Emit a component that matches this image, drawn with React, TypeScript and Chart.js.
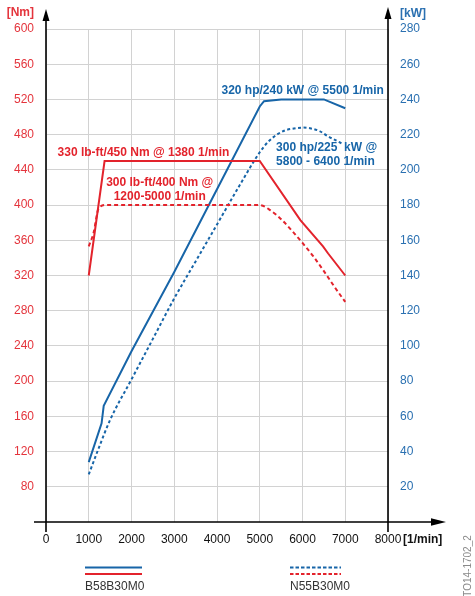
import { useEffect, useRef } from "react";
import { Chart, registerables } from "chart.js";
Chart.register(...registerables);

// B58B30M0 torque [Nm]
const rpmB58Torque = [1000, 1370, 5000, 5950, 6480, 6600, 7000];
const nmB58 = [320, 450, 450, 383, 353, 345, 320];
// N55B30M0 torque [Nm]
const rpmN55Torque = [1000, 1110, 1230, 1400, 5000, 5250, 5500, 5750, 6000, 6250, 6500, 6750, 7000];
const nmN55 = [353, 368, 396, 400, 400, 394, 384, 371, 357, 342, 325, 307, 290];
// B58B30M0 power [kW]
const rpmB58Power = [1000, 1300, 1350, 2000, 3000, 4000, 5000, 5100, 5500, 6500, 7000];
const kwB58 = [34, 56, 66, 97, 142, 189, 236, 239, 240, 240, 235];
// N55B30M0 power [kW]
const rpmN55Power = [1000, 1250, 1500, 2000, 2500, 3000, 3500, 4000, 4500, 5000, 5200, 5400, 5600, 5800, 6000, 6200, 6400, 6600, 6800, 6920];
const kwN55 = [27, 43, 58, 81, 104, 127, 148, 169, 190, 210, 216, 220, 222.5, 223.5, 224, 223.5, 222, 219, 216.5, 215];

const xTicks = [0, 1000, 2000, 3000, 4000, 5000, 6000, 7000, 8000];
const nmTicks = [80, 120, 160, 200, 240, 280, 320, 360, 400, 440, 480, 520, 560, 600];
const kwTicks = [20, 40, 60, 80, 100, 120, 140, 160, 180, 200, 220, 240, 260, 280];

const RED = "#e3232c";
const BLUE = "#1765a8";
const RED_T = "#e4343c";
const BLUE_T = "#2a70b1";
const FONT = "'Liberation Sans', Arial, Helvetica, sans-serif";

const pts = (xs: number[], ys: number[]) => xs.map((x, i) => ({ x, y: ys[i] }));

const overlay = {
  id: "overlay",
  afterDraw(chart: any) {
    const ctx = chart.ctx as CanvasRenderingContext2D;
    const xs = chart.scales.x;
    const yn = chart.scales.yNm;
    const yk = chart.scales.ykW;
    const x0 = xs.getPixelForValue(0);
    const x8 = xs.getPixelForValue(8000);
    const yb = yk.getPixelForValue(0);
    ctx.save();
    // axes
    ctx.strokeStyle = "#000";
    ctx.fillStyle = "#000";
    ctx.lineWidth = 1.6;
    ctx.beginPath();
    ctx.moveTo(x0, yb + 10);
    ctx.lineTo(x0, 16);
    ctx.moveTo(x8, yb + 10);
    ctx.lineTo(x8, 14);
    ctx.moveTo(x0 - 12, yb);
    ctx.lineTo(x8 + 45, yb);
    ctx.stroke();
    const arrowUp = (x: number, tip: number) => {
      ctx.beginPath();
      ctx.moveTo(x, tip);
      ctx.lineTo(x - 3.5, tip + 12);
      ctx.lineTo(x + 3.5, tip + 12);
      ctx.closePath();
      ctx.fill();
    };
    arrowUp(x0, 9);
    arrowUp(x8, 7);
    ctx.beginPath();
    ctx.moveTo(x8 + 58, yb);
    ctx.lineTo(x8 + 43, yb - 3.8);
    ctx.lineTo(x8 + 43, yb + 3.8);
    ctx.closePath();
    ctx.fill();

    // unit labels
    ctx.font = `bold 12px ${FONT}`;
    ctx.textBaseline = "middle";
    ctx.fillStyle = RED_T;
    ctx.textAlign = "right";
    ctx.fillText("[Nm]", x0 - 12, 12.5);
    ctx.fillStyle = BLUE_T;
    ctx.textAlign = "left";
    ctx.fillText("[kW]", x8 + 12, 13.5);
    ctx.fillStyle = "#111";
    ctx.fillText("[1/min]", x8 + 15, yb + 18);

    // annotations
    ctx.font = `bold 12px ${FONT}`;
    ctx.fillStyle = RED;
    ctx.textAlign = "center";
    ctx.fillText("330 lb-ft/450 Nm @ 1380 1/min", xs.getPixelForValue(2280), yn.getPixelForValue(460));
    ctx.fillText("300 lb-ft/400 Nm @", xs.getPixelForValue(2660), yn.getPixelForValue(425));
    ctx.fillText("1200-5000 1/min", xs.getPixelForValue(2660), yn.getPixelForValue(409.6));
    ctx.fillStyle = BLUE;
    ctx.fillText("320 hp/240 kW @ 5500 1/min", xs.getPixelForValue(6005), yk.getPixelForValue(245.1));
    ctx.textAlign = "left";
    ctx.fillText("300 hp/225  kW @", xs.getPixelForValue(5381), yk.getPixelForValue(212.7));
    ctx.fillText("5800 - 6400 1/min", xs.getPixelForValue(5381), yk.getPixelForValue(204.4));

    // legend
    const line = (xa: number, xb: number, y: number, color: string, dash: number[]) => {
      ctx.beginPath();
      ctx.setLineDash(dash);
      ctx.strokeStyle = color;
      ctx.lineWidth = 2;
      ctx.moveTo(xa, y);
      ctx.lineTo(xb, y);
      ctx.stroke();
      ctx.setLineDash([]);
    };
    line(85, 142, 567.5, BLUE, []);
    line(85, 142, 574, RED, []);
    line(290, 341, 567.5, BLUE, [3.5, 2]);
    line(290, 341, 574, RED, [3.5, 2]);
    ctx.font = `12px ${FONT}`;
    ctx.fillStyle = "#333";
    ctx.textAlign = "left";
    ctx.fillText("B58B30M0", 85, 587);
    ctx.fillText("N55B30M0", 290, 587);

    // id
    ctx.translate(468, 566);
    ctx.rotate(-Math.PI / 2);
    ctx.font = `10px ${FONT}`;
    ctx.fillStyle = "#8a8a8a";
    ctx.textAlign = "center";
    ctx.fillText("TO14-1702_2", 0, 0);
    ctx.restore();
  },
};

export default function App() {
  const ref = useRef<HTMLCanvasElement | null>(null);
  useEffect(() => {
    document.body.style.margin = "0";
    const canvas = ref.current;
    if (!canvas) return;
    const chart = new Chart(canvas, {
      type: "line",
      data: {
        datasets: [
          {
            label: "B58B30M0 Nm",
            data: pts(rpmB58Torque, nmB58),
            yAxisID: "yNm",
            borderColor: RED,
            borderWidth: 2,
            pointRadius: 0,
            tension: 0,
          },
          {
            label: "N55B30M0 Nm",
            data: pts(rpmN55Torque, nmN55),
            yAxisID: "yNm",
            borderColor: RED,
            borderWidth: 2,
            borderDash: [4, 3],
            pointRadius: 0,
            cubicInterpolationMode: "monotone",
          },
          {
            label: "B58B30M0 kW",
            data: pts(rpmB58Power, kwB58),
            yAxisID: "ykW",
            borderColor: BLUE,
            borderWidth: 2,
            pointRadius: 0,
            tension: 0,
          },
          {
            label: "N55B30M0 kW",
            data: pts(rpmN55Power, kwN55),
            yAxisID: "ykW",
            borderColor: BLUE,
            borderWidth: 2,
            borderDash: [3, 2.5],
            pointRadius: 0,
            cubicInterpolationMode: "monotone",
          },
        ],
      },
      options: {
        responsive: false,
        animation: false,
        devicePixelRatio: 1,
        layout: { padding: { top: 29, left: 0, right: 0, bottom: 0 } },
        plugins: { legend: { display: false }, tooltip: { enabled: false } },
        scales: {
          x: {
            type: "linear",
            min: 0,
            max: 8000,
            afterBuildTicks: (s: any) => {
              s.ticks = xTicks.map((v) => ({ value: v }));
            },
            afterFit: (s: any) => {
              s.height = 74;
            },
            ticks: {
              color: "#111",
              font: { family: FONT, size: 12 },
              padding: 10,
              maxRotation: 0,
              autoSkip: false,
              callback: (v: any) => String(v),
            },
            grid: { color: "#d2d2d2", lineWidth: 1, drawTicks: false },
            border: { display: false },
          },
          yNm: {
            type: "linear",
            position: "left",
            min: 40,
            max: 600,
            afterBuildTicks: (s: any) => {
              s.ticks = nmTicks.map((v) => ({ value: v }));
            },
            afterFit: (s: any) => {
              s.width = 46;
            },
            ticks: {
              color: RED_T,
              font: { family: FONT, size: 12 },
              padding: 12,
              autoSkip: false,
              callback: (v: any) => String(v),
            },
            grid: { color: "#d2d2d2", lineWidth: 1, drawTicks: false },
            border: { display: false },
          },
          ykW: {
            type: "linear",
            position: "right",
            min: 0,
            max: 280,
            afterBuildTicks: (s: any) => {
              s.ticks = kwTicks.map((v) => ({ value: v }));
            },
            afterFit: (s: any) => {
              s.width = 87;
            },
            ticks: {
              color: BLUE_T,
              font: { family: FONT, size: 12 },
              padding: 12,
              autoSkip: false,
              callback: (v: any) => String(v),
            },
            grid: { display: false, drawTicks: false },
            border: { display: false },
          },
        },
      },
      plugins: [overlay],
    } as any);
    return () => chart.destroy();
  }, []);
  return (
    <div style={{ position: "absolute", left: 0, top: 0, width: 475, height: 596, background: "#fff" }}>
      <canvas ref={ref} width={475} height={596} style={{ width: 475, height: 596, display: "block" }} />
    </div>
  );
}
